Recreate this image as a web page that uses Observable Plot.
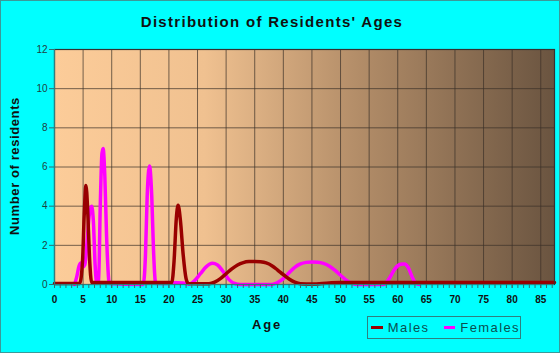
<!DOCTYPE html>
<html>
<head>
<meta charset="utf-8">
<script src="https://cdn.jsdelivr.net/npm/d3@7"></script>
<script src="https://cdn.jsdelivr.net/npm/@observablehq/plot@0.6"></script>
<style>
  html, body { margin: 0; padding: 0; background: #00ffff; }
  #chart { position: relative; width: 560px; height: 353px; background: #00ffff; overflow: hidden; font-family: "Liberation Sans", Arial, sans-serif; }
  #chart svg.plot { position: absolute; left: 0; top: 0; }
  .title { position: absolute; left: 0; width: 544px; top: 13px; text-align: center; font-size: 15px; font-weight: bold; letter-spacing: 1.3px; color: #111; }
  .ylab { position: absolute; left: 14px; top: 166px; transform: translate(-50%, -50%) rotate(-90deg); white-space: nowrap; font-size: 13px; font-weight: bold; letter-spacing: 0.6px; color: #111; }
  .xlab { position: absolute; left: 267px; top: 324px; transform: translate(-50%, -50%); font-size: 13px; font-weight: bold; letter-spacing: 1.8px; color: #111; }
  .legend { position: absolute; left: 367px; top: 316px; width: 154px; height: 23px; border: 1px solid #2f7f7f; box-sizing: border-box; display: flex; align-items: center; font-size: 13px; letter-spacing: 1.4px; color: #0a4f4f; }
  .legend .sw { display: inline-block; width: 13px; height: 3px; margin: 0 5px 0 3px; }
  .outer { position: absolute; left: 0; top: 0; width: 560px; height: 353px; box-sizing: border-box; border: 1px solid #3a9a9a; pointer-events: none; }
</style>
</head>
<body>
<svg width="0" height="0" style="position:absolute">
  <defs>
    <linearGradient id="bg" x1="0" y1="0" x2="1" y2="0">
      <stop offset="0" stop-color="#fccc99"/>
      <stop offset="0.3" stop-color="#f0c190"/>
      <stop offset="0.6" stop-color="#b48e69"/>
      <stop offset="1" stop-color="#6a5440"/>
    </linearGradient>
  </defs>
</svg>
<div id="chart"></div>
<script>
const titleText = "Distribution of Residents' Ages";
const xLabel = "Age";
const yLabel = "Number of residents";
const seriesNames = ["Males", "Females"];
const seriesColors = ["#990000", "#ff00ff"];

const xTicks = [0, 5, 10, 15, 20, 25, 30, 35, 40, 45, 50, 55, 60, 65, 70, 75, 80, 85];
const xMinorTicks = d3.range(0, 88, 1);
const yTicks = [0, 2, 4, 6, 8, 10, 12];

const maleAges = [0, 4.4, 4.9, 5.2, 5.5, 5.8, 6.1, 6.5, 7, 20, 20.5, 20.9, 21.3, 21.6, 22.0, 22.5, 23.0, 23.4, 27, 28, 29, 30, 31, 32, 33, 34, 35, 36, 37, 38, 39, 40, 41, 42, 43, 45, 48, 50, 87.4];
const maleValues = [0.05, 0.05, 1.2, 3.6, 5.05, 3.8, 1.5, 0.1, 0.1, 0.1, 0.1, 1.2, 3.4, 4.05, 3.3, 1.5, 0.3, 0.05, 0.04, 0.12, 0.3, 0.55, 0.8, 1.0, 1.12, 1.17, 1.18, 1.16, 1.1, 0.96, 0.74, 0.5, 0.28, 0.12, 0.04, 0.03, 0.08, 0.1, 0.1];

const femaleAges = [3.5, 3.9, 4.3, 4.6, 5.0, 5.3, 5.7, 6.1, 6.5, 6.8, 7.1, 7.4, 7.7, 8.0, 8.3, 8.5, 8.8, 9.1, 9.6, 15.5, 15.9, 16.2, 16.6, 17.0, 17.3, 17.7, 19.5, 20.5, 22.5, 23.5, 24.5, 25.5, 26.5, 27.6, 28.5, 29.5, 30.5, 31.5, 32.5, 38, 39, 40, 41, 42, 43, 44, 45, 46, 47, 48, 49, 50, 51, 52, 53, 57.5, 58.5, 59.5, 60.5, 61.2, 61.8, 62.5, 63.2, 63.8];
const femaleValues = [0, 0.4, 0.95, 1.1, 0.9, 1.0, 2.2, 3.6, 4.0, 3.2, 1.0, 0.05, 0.1, 4.0, 6.7, 6.95, 5.5, 2.5, 0.05, 0, 1.5, 4.5, 6.05, 4.5, 1.8, 0.05, 0.05, 0.1, 0.08, 0.02, 0.2, 0.55, 0.9, 1.08, 1.0, 0.65, 0.25, 0.05, 0, 0, 0.1, 0.3, 0.6, 0.88, 1.05, 1.13, 1.15, 1.14, 1.08, 0.95, 0.73, 0.47, 0.22, 0.06, 0, 0, 0.3, 0.8, 1.03, 1.05, 0.88, 0.4, 0.05, 0];

const males = maleAges.map((a, i) => ({age: a, n: maleValues[i]}));
const females = femaleAges.map((a, i) => ({age: a, n: femaleValues[i]}));

const plot = Plot.plot({
  width: 560,
  height: 353,
  marginLeft: 54,
  marginRight: 6,
  marginTop: 49,
  marginBottom: 69,
  style: {background: "transparent", fontFamily: "Liberation Sans, Arial, sans-serif", overflow: "visible"},
  x: {domain: [0, 87.4], label: null},
  y: {domain: [0, 12], label: null},
  marks: [
    Plot.frame({fill: "url(#bg)", stroke: null}),
    Plot.ruleX(xTicks.slice(1), {stroke: "#3a3028", strokeOpacity: 0.7, strokeWidth: 1}),
    Plot.ruleY(yTicks.slice(1), {stroke: "#3a3028", strokeOpacity: 0.7, strokeWidth: 1}),
    Plot.line(females, {x: "age", y: "n", stroke: seriesColors[1], strokeWidth: 3.5, curve: "monotone-x"}),
    Plot.line(males, {x: "age", y: "n", stroke: seriesColors[0], strokeWidth: 3.5, curve: "monotone-x"}),
    Plot.frame({stroke: "#333", strokeWidth: 1.2, fill: null}),
    Plot.ruleX([0], {stroke: "#2f7f7f", strokeWidth: 1.2}),
    Plot.ruleY([0], {stroke: "#2f7f7f", strokeWidth: 1.2}),
    Plot.axisX(xMinorTicks, {tickSize: 4, tickFormat: () => "", stroke: "#2f6f6f"}),
    Plot.axisX(xTicks, {tickSize: 4, tickPadding: 7, fontSize: 10, fontWeight: "bold", fill: "#111", stroke: "#2f6f6f", style: {letterSpacing: "0.8px"}}),
    Plot.axisY(yTicks, {tickSize: 5, tickPadding: 2, fontSize: 10, fill: "#1f3f3f", stroke: "#2f6f6f"})
  ]
});
plot.classList.add("plot");

const chart = document.getElementById("chart");
chart.appendChild(plot);

function addDiv(cls, text) {
  const d = document.createElement("div");
  d.className = cls;
  if (text != null) d.textContent = text;
  chart.appendChild(d);
  return d;
}
addDiv("title", titleText);
addDiv("ylab", yLabel);
addDiv("xlab", xLabel);
const leg = addDiv("legend");
seriesNames.forEach((name, i) => {
  const sw = document.createElement("span");
  sw.className = "sw";
  sw.style.background = seriesColors[i];
  if (i === 1) sw.style.marginLeft = "14px";
  leg.appendChild(sw);
  const t = document.createElement("span");
  t.textContent = name;
  leg.appendChild(t);
});
addDiv("outer");
</script>
</body>
</html>
